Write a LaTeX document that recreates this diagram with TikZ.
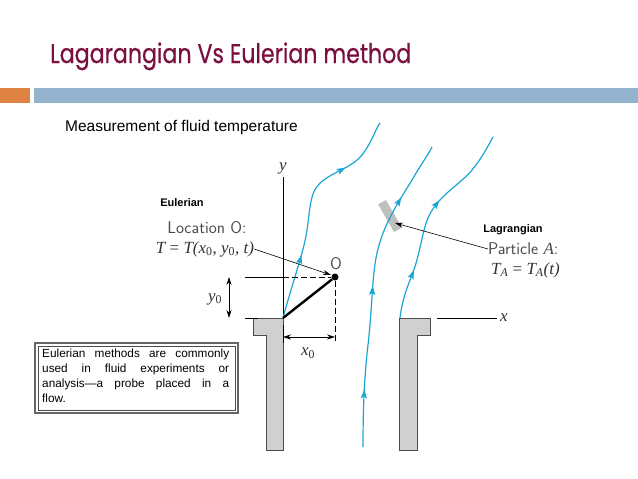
\documentclass[tikz,border=0pt]{standalone}
\usepackage{fontspec}
\setmainfont{Liberation Sans}
\newfontfamily\titlefont{Poppins}[FakeBold=0.6]
\newfontfamily\serifont{Liberation Serif}
\usetikzlibrary{arrows.meta,decorations.markings}
\definecolor{titlered}{HTML}{7B1040}
\definecolor{barorange}{HTML}{DF8345}
\definecolor{barblue}{HTML}{93B3CF}
\definecolor{flow}{HTML}{1AA6D4}
\definecolor{wallgray}{HTML}{D0D0D0}
\tikzset{
  >={Stealth[length=8pt,width=5pt]},
  stream/.style={flow, line width=1.2pt, postaction={decorate}},
  arr/.style={decoration={markings, mark=at position #1 with {\fill[flow] (4pt,0pt) -- (-5pt,3.2pt) -- (-3pt,0pt) -- (-5pt,-3.2pt) -- cycle;}}},
  wall/.style={fill=wallgray, draw=black!70, line width=0.6pt},
  fine/.style={line width=0.6pt},
  dimline/.style={line width=0.6pt, <->},
  lbl/.style={inner sep=0pt, font=\sffamily\fontsize{17}{19}\selectfont\color{black!70}},
  math/.style={inner sep=0pt, font=\serifont\itshape\fontsize{17}{19}\selectfont\color{black!80}},
  bold/.style={inner sep=0pt, font=\bfseries\fontsize{11}{13}\selectfont},
}
\begin{document}
\begin{tikzpicture}[x=1pt,y=-1pt]
\useasboundingbox (0,0) rectangle (638,479);
\fill[white] (0,0) rectangle (638,479);
\node[anchor=base west, inner sep=0pt, text=titlered, font=\titlefont\fontsize{27}{30}\selectfont] (title) at (50,63) {\scalebox{0.82}[1]{Lagarangian Vs Eulerian method}};
\fill[barorange] (0,88) rectangle (30,103);
\fill[barblue] (34,88) rectangle (638,103);
\node[anchor=base west, inner sep=0pt, font=\fontsize{15.5}{17}\selectfont] (meas) at (65,131) {Measurement of fluid temperature};
% walls
\draw[wall] (253,318) -- (283,318) -- (283,450) -- (266,450) -- (266,335) -- (253,335) -- cycle;
\draw[wall] (399,318) -- (430,318) -- (430,335) -- (417,335) -- (417,450) -- (399,450) -- cycle;
% axes
\coordinate (origin) at (283,318);
\draw[fine] (origin) -- (283,177);
\node[math, anchor=south] (ylab) at (283,174) {y};
\draw[fine] (437,318) -- (497,318);
\node[math, anchor=west] (xlab) at (500,318) {x};
% particle
\fill[gray!50, rotate around={-60:(390,216)}] (374,211.5) rectangle (406,220.5);
% streamlines
\draw[stream, arr=0.27, arr=0.73] (283,318) .. controls (292,285) and (300,262) .. (304,245) .. controls (310,222) and (308,200) .. (316,188) .. controls (326,173) and (350,170) .. (362,155) .. controls (372,142) and (375,130) .. (380,123);
\draw[stream, arr=0.17, arr=0.5, arr=0.8] (363,447) .. controls (363,400) and (365,370) .. (368,345) .. controls (372,310) and (372,280) .. (376,258) .. controls (382,225) and (400,200) .. (412,180) .. controls (420,166) and (428,155) .. (432,147);
\draw[stream, arr=0.22, arr=0.58] (400,318) .. controls (402,300) and (408,285) .. (412,275) .. controls (420,255) and (422,232) .. (428,218) .. controls (438,195) and (460,185) .. (472,170) .. controls (482,158) and (488,146) .. (493,137);
% probe
\node[circle, fill=black, inner sep=0pt, minimum size=7pt] (O) at (335,277) {};
\node[lbl, anchor=south] (Olab) at (336,270) {O};
\draw[line width=2.4pt] (origin) -- (O);
\draw[fine, dash pattern=on 6pt off 3pt] (283,277) -- (O);
\draw[fine] (245,277) -- (283,277);
\draw[fine] (245,318) -- (258,318);
\draw[fine, dash pattern=on 6pt off 3pt] (O) -- (335,343);
\draw[fine] (283,325) -- (283,343);
\draw[dimline] (229,277) -- (229,318);
\node[math, anchor=center] (y0) at (215,299) {y\textsubscript{\upshape 0}};
\draw[dimline] (283,337) -- (335,337);
\node[math, anchor=center] (x0) at (308,353) {x\textsubscript{\upshape 0}};
% labels
\node[bold, anchor=center] (eul) at (182,203) {Eulerian};
\node[lbl, anchor=center] (loc) at (207,228) {Location O:};
\node[math, anchor=center] (Teq) at (205,249) {T {\upshape=} T({x}\textsubscript{\upshape 0}{\upshape ,} y\textsubscript{\upshape 0}{\upshape ,} t)};
\draw[fine, ->] (Teq.east) -- (331,275);
\node[bold, anchor=center] (lag) at (513,230) {Lagrangian};
\node[lbl, anchor=west] (part) at (488,249) {Particle \serifont\itshape A\upshape\sffamily:};
\node[math, anchor=west] (TA) at (491,270) {T\textsubscript{A} {\upshape=} T\textsubscript{A}(t)};
\draw[fine, ->] (part.west) -- (395,223);
% text box
\draw[gray!80!black, line width=1.2pt] (35,343) rectangle (238,413);
\draw[gray!60!black, line width=0.5pt] (38,346) rectangle (235,410);
\node[anchor=north west, inner sep=0pt, text width=187pt, align=justify, font=\fontsize{11.8}{15}\selectfont] (box) at (42,349) {Eulerian methods are commonly used in fluid experiments or analysis---a probe placed in a flow.};
\end{tikzpicture}
\end{document}
